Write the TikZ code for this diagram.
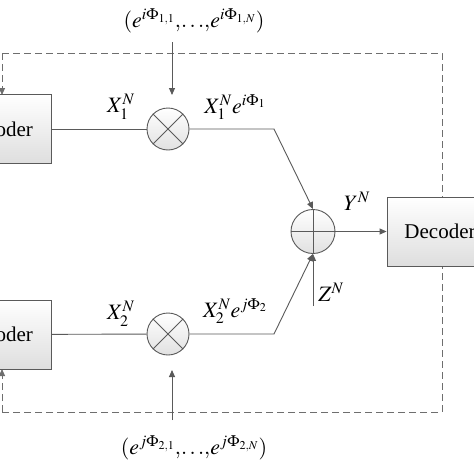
\documentclass[tikz,border=0pt]{standalone}
\usepackage{mathptmx}
\usepackage{fontspec}
\setmainfont{Liberation Serif}
\DeclareMathSizes{22}{22}{16}{12}
\usetikzlibrary{arrows.meta}
\definecolor{linegray}{RGB}{90,90,90}
\definecolor{dashgray}{RGB}{110,110,110}
\definecolor{boxgray}{RGB}{222,222,222}
\definecolor{circgray}{RGB}{225,225,225}
\begin{document}
\begin{tikzpicture}[x=1pt,y=-1pt,
  line/.style={draw=linegray, line width=0.9pt},
  arr/.style={line, -{Triangle[length=7pt,width=6pt]}},
  blk/.style={draw=linegray, line width=0.9pt, top color=white, bottom color=boxgray, minimum width=106pt, minimum height=69pt, font=\fontsize{21}{24}\selectfont, inner sep=0},
  opnode/.style={circle, draw=linegray, line width=0.9pt, top color=white, bottom color=circgray, minimum size=42pt, inner sep=0},
  lbl/.style={font=\fontsize{22}{24}\selectfont, inner sep=0},
  frame/.style={draw=dashgray, line width=1pt, dash pattern=on 7pt off 4pt}
]
\clip (0,0) rectangle (474,474);
\fill[white] (0,0) rectangle (474,474);
% dashed frame
\draw[frame] (-20,53) -- (442,53) -- (442,412) -- (-20,412);
\draw[frame, -{Triangle[length=7pt,width=6pt]}] (2,53) -- (2,95);
\draw[frame, -{Triangle[length=7pt,width=6pt]}] (2,412) -- (2,369);
% blocks
\node[blk] (enc1) at (-2,129) {Encoder};
\node[blk] (enc2) at (-2,334.5) {Encoder};
\node[blk] (dec) at (440,231.5) {Decoder};
% operators
\node[opnode] (m1) at (168,129) {};
\node[opnode] (m2) at (168,334) {};
\node[opnode, minimum size=44pt] (s) at (313,231.5) {};
\draw[line] (m1.north east) -- (m1.south west) (m1.north west) -- (m1.south east);
\draw[line] (m2.north east) -- (m2.south west) (m2.north west) -- (m2.south east);
\draw[line] (s.north) -- (s.south) (s.west) -- (s.east);
% coordinates
\coordinate (k1) at (274,129);
\coordinate (k2) at (274,334);
\coordinate (t1) at (172,42);
\coordinate (t2) at (172,420);
\coordinate (z) at (313,306);
% connectors
\draw[line] (enc1) -- (m1);
\draw[line] (enc2) -- (m2);
\draw[arr] (m1) -- (k1) -- (s.north);
\draw[arr] (m2) -- (k2) -- (s.south);
\draw[arr] (z) -- (s.south);
\draw[arr] (s) -- (dec);
\draw[arr] (t1) -- (172,95);
\draw[arr] (t2) -- (172,370);
% labels
\node[lbl] (lx1) at (121,107) {$X_1^N$};
\node[lbl] (lx1e) at (235,107) {$X_1^N e^{i\Phi_1}$};
\node[lbl] (lx2) at (121,314) {$X_2^N$};
\node[lbl] (lx2e) at (235,311) {$X_2^N e^{j\Phi_2}$};
\node[lbl] (ly) at (357,201) {$Y^N$};
\node[lbl] (lz) at (331,292) {$Z^N$};
\node[lbl] (top) at (194,21) {$(e^{i\Phi_{1,1}}{,}{\ldots}{,}e^{i\Phi_{1,N}})$};
\node[lbl] (bot) at (194,448) {$(e^{j\Phi_{2,1}}{,}{\ldots}{,}e^{j\Phi_{2,N}})$};
\end{tikzpicture}
\end{document}
